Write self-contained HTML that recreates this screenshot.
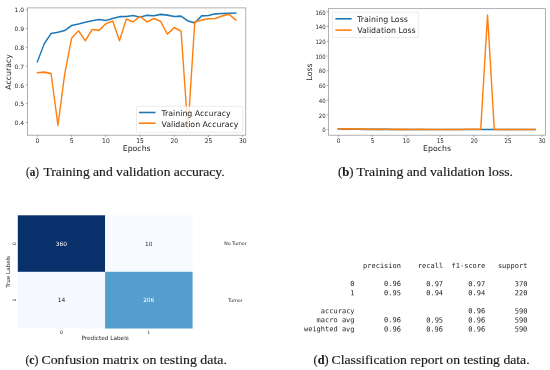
<!DOCTYPE html>
<html lang="en"><head><meta charset="utf-8"><title>Figure</title>
<style>html,body{margin:0;padding:0;background:#fff}body{width:550px;height:370px;overflow:hidden;position:relative}svg{position:absolute;left:0;top:0;display:block}.t{font-family:'DejaVu Sans','Liberation Sans',sans-serif;fill:#262626}.cap{font-family:'Liberation Serif','DejaVu Serif',serif;fill:#1a1a1a;stroke:#1a1a1a;stroke-width:0.15px}.m{font-family:'DejaVu Sans Mono','Liberation Mono',monospace;fill:#222;white-space:pre;text-rendering:geometricPrecision}</style></head><body>
<svg width="550" height="370" viewBox="0 0 550 370">
<rect width="550" height="370" fill="#fff"/>
<g>
<clipPath id="ca"><rect x="27.6" y="7.9" width="218.20" height="127.30"/></clipPath>
<g clip-path="url(#ca)" fill="none" stroke-width="1.6" stroke-linejoin="round" stroke-linecap="square">
<g transform="scale(0.88,1)">
<polyline stroke="#1f77b4" points="42.50,61.78 50.27,43.73 58.05,33.58 65.83,32.26 73.60,30.57 81.38,25.49 89.15,23.99 96.92,22.30 104.70,20.79 112.47,19.48 120.25,20.42 128.03,18.54 135.80,16.66 143.58,16.47 151.35,15.53 159.12,17.22 166.90,15.34 174.68,15.72 182.45,14.40 190.22,15.15 198.00,16.47 205.78,16.09 213.55,20.98 221.32,22.86 229.10,15.90 236.88,15.53 244.65,13.84 252.42,13.46 260.20,13.27 267.97,13.08"/>
<polyline stroke="#ff7f0e" points="42.50,72.68 50.27,72.12 58.05,73.62 65.83,125.32 73.60,73.62 81.38,38.28 89.15,30.76 96.92,40.72 104.70,29.44 112.47,30.38 120.25,23.80 128.03,20.98 135.80,40.72 143.58,19.10 151.35,21.92 159.12,16.28 166.90,21.92 174.68,18.54 182.45,21.36 190.22,34.14 198.00,27.56 205.78,31.32 213.55,129.64 221.32,21.92 229.10,20.04 236.88,18.72 244.65,18.54 252.42,15.90 260.20,14.21 267.97,20.23"/>
</g>
</g>
<rect x="27.6" y="7.9" width="218.20" height="127.30" fill="none" stroke="#909090" stroke-width="0.7"/>
<line x1="25.700000000000003" x2="27.6" y1="122.50" y2="122.50" stroke="#555" stroke-width="0.45"/>
<text class="t" x="24.150000000000002" y="125.20" font-size="6.0" text-anchor="end">0.4</text>
<line x1="25.700000000000003" x2="27.6" y1="103.70" y2="103.70" stroke="#555" stroke-width="0.45"/>
<text class="t" x="24.150000000000002" y="106.40" font-size="6.0" text-anchor="end">0.5</text>
<line x1="25.700000000000003" x2="27.6" y1="84.90" y2="84.90" stroke="#555" stroke-width="0.45"/>
<text class="t" x="24.150000000000002" y="87.60" font-size="6.0" text-anchor="end">0.6</text>
<line x1="25.700000000000003" x2="27.6" y1="66.10" y2="66.10" stroke="#555" stroke-width="0.45"/>
<text class="t" x="24.150000000000002" y="68.80" font-size="6.0" text-anchor="end">0.7</text>
<line x1="25.700000000000003" x2="27.6" y1="47.30" y2="47.30" stroke="#555" stroke-width="0.45"/>
<text class="t" x="24.150000000000002" y="50.00" font-size="6.0" text-anchor="end">0.8</text>
<line x1="25.700000000000003" x2="27.6" y1="28.50" y2="28.50" stroke="#555" stroke-width="0.45"/>
<text class="t" x="24.150000000000002" y="31.20" font-size="6.0" text-anchor="end">0.9</text>
<line x1="25.700000000000003" x2="27.6" y1="9.70" y2="9.70" stroke="#555" stroke-width="0.45"/>
<text class="t" x="24.150000000000002" y="12.40" font-size="6.0" text-anchor="end">1.0</text>
<line x1="37.40" x2="37.40" y1="135.2" y2="137.1" stroke="#555" stroke-width="0.45"/>
<text class="t" transform="translate(37.50,143) scale(0.94,1)" font-size="6.4" text-anchor="middle">0</text>
<line x1="71.61" x2="71.61" y1="135.2" y2="137.1" stroke="#555" stroke-width="0.45"/>
<text class="t" transform="translate(71.71,143) scale(0.94,1)" font-size="6.4" text-anchor="middle">5</text>
<line x1="105.82" x2="105.82" y1="135.2" y2="137.1" stroke="#555" stroke-width="0.45"/>
<text class="t" transform="translate(105.92,143) scale(0.94,1)" font-size="6.4" text-anchor="middle">10</text>
<line x1="140.03" x2="140.03" y1="135.2" y2="137.1" stroke="#555" stroke-width="0.45"/>
<text class="t" transform="translate(140.13,143) scale(0.94,1)" font-size="6.4" text-anchor="middle">15</text>
<line x1="174.24" x2="174.24" y1="135.2" y2="137.1" stroke="#555" stroke-width="0.45"/>
<text class="t" transform="translate(174.34,143) scale(0.94,1)" font-size="6.4" text-anchor="middle">20</text>
<line x1="208.45" x2="208.45" y1="135.2" y2="137.1" stroke="#555" stroke-width="0.45"/>
<text class="t" transform="translate(208.55,143) scale(0.94,1)" font-size="6.4" text-anchor="middle">25</text>
<line x1="242.66" x2="242.66" y1="135.2" y2="137.1" stroke="#555" stroke-width="0.45"/>
<text class="t" transform="translate(242.76,143) scale(0.94,1)" font-size="6.4" text-anchor="middle">30</text>
<text class="t" x="136.70" y="151.3" font-size="7.8" text-anchor="middle">Epochs</text>
<text class="t" transform="translate(11.1,71.95) rotate(-90)" font-size="7.8" text-anchor="middle">Accuracy</text>
<rect x="136.5" y="106.3" width="106.3" height="26.0" rx="1.2" fill="#fff" fill-opacity="0.8" stroke="#ccc" stroke-opacity="0.8" stroke-width="0.5"/>
<line x1="138.9" x2="155.6" y1="112.5" y2="112.5" stroke="#1f77b4" stroke-width="1.6"/>
<line x1="138.9" x2="155.6" y1="123.2" y2="123.2" stroke="#ff7f0e" stroke-width="1.6"/>
<text class="t" x="161.4" y="115.5" font-size="7.85">Training Accuracy</text>
<text class="t" x="161.4" y="126.5" font-size="7.85">Validation Accuracy</text>
</g>
<g>
<g fill="none" stroke-width="1.6" stroke-linejoin="round" stroke-linecap="square">
<g transform="scale(0.88,1)">
<polyline stroke="#1f77b4" points="384.43,128.94 392.14,129.16 399.85,129.27 407.56,129.31 415.26,129.34 422.97,129.38 430.68,129.39 438.39,129.42 446.10,129.44 453.80,129.45 461.51,129.45 469.22,129.47 476.93,129.49 484.64,129.49 492.34,129.50 500.05,129.49 507.76,129.51 515.47,129.51 523.17,129.53 530.88,129.53 538.59,129.51 546.30,129.51 554.01,129.45 561.71,129.45 569.42,129.51 577.13,129.53 584.84,129.53 592.55,129.54 600.25,129.54 607.96,129.54"/>
<polyline stroke="#ff7f0e" points="384.43,128.94 392.14,128.86 399.85,128.86 407.56,128.94 415.26,129.16 422.97,129.31 430.68,129.38 438.39,129.31 446.10,129.38 453.80,129.38 461.51,129.42 469.22,129.45 476.93,129.23 484.64,129.45 492.34,129.45 500.05,129.49 507.76,129.45 515.47,129.49 523.17,129.45 530.88,129.23 538.59,129.31 546.30,129.08 554.01,14.93 561.71,129.42 569.42,129.45 577.13,129.45 584.84,129.45 592.55,129.49 600.25,129.49 607.96,129.45"/>
</g>
</g>
<rect x="328.6" y="8.7" width="216.80" height="126.50" fill="none" stroke="#909090" stroke-width="0.7"/>
<line x1="326.70000000000005" x2="328.6" y1="129.60" y2="129.60" stroke="#555" stroke-width="0.45"/>
<text class="t" transform="translate(325.70,132) scale(0.9,1)" font-size="6.0" text-anchor="end">0</text>
<line x1="326.70000000000005" x2="328.6" y1="114.88" y2="114.88" stroke="#555" stroke-width="0.45"/>
<text class="t" transform="translate(325.70,118) scale(0.9,1)" font-size="6.0" text-anchor="end">20</text>
<line x1="326.70000000000005" x2="328.6" y1="100.16" y2="100.16" stroke="#555" stroke-width="0.45"/>
<text class="t" transform="translate(325.70,103) scale(0.9,1)" font-size="6.0" text-anchor="end">40</text>
<line x1="326.70000000000005" x2="328.6" y1="85.44" y2="85.44" stroke="#555" stroke-width="0.45"/>
<text class="t" transform="translate(325.70,88) scale(0.9,1)" font-size="6.0" text-anchor="end">60</text>
<line x1="326.70000000000005" x2="328.6" y1="70.72" y2="70.72" stroke="#555" stroke-width="0.45"/>
<text class="t" transform="translate(325.70,73) scale(0.9,1)" font-size="6.0" text-anchor="end">80</text>
<line x1="326.70000000000005" x2="328.6" y1="56.00" y2="56.00" stroke="#555" stroke-width="0.45"/>
<text class="t" transform="translate(325.70,59) scale(0.9,1)" font-size="6.0" text-anchor="end">100</text>
<line x1="326.70000000000005" x2="328.6" y1="41.28" y2="41.28" stroke="#555" stroke-width="0.45"/>
<text class="t" transform="translate(325.70,44) scale(0.9,1)" font-size="6.0" text-anchor="end">120</text>
<line x1="326.70000000000005" x2="328.6" y1="26.56" y2="26.56" stroke="#555" stroke-width="0.45"/>
<text class="t" transform="translate(325.70,29) scale(0.9,1)" font-size="6.0" text-anchor="end">140</text>
<line x1="326.70000000000005" x2="328.6" y1="11.84" y2="11.84" stroke="#555" stroke-width="0.45"/>
<text class="t" transform="translate(325.70,15) scale(0.9,1)" font-size="6.0" text-anchor="end">160</text>
<line x1="338.30" x2="338.30" y1="135.2" y2="137.1" stroke="#555" stroke-width="0.45"/>
<text class="t" transform="translate(338.50,143) scale(0.86,1)" font-size="6.4" text-anchor="middle">0</text>
<line x1="372.22" x2="372.22" y1="135.2" y2="137.1" stroke="#555" stroke-width="0.45"/>
<text class="t" transform="translate(372.42,143) scale(0.86,1)" font-size="6.4" text-anchor="middle">5</text>
<line x1="406.13" x2="406.13" y1="135.2" y2="137.1" stroke="#555" stroke-width="0.45"/>
<text class="t" transform="translate(406.33,143) scale(0.86,1)" font-size="6.4" text-anchor="middle">10</text>
<line x1="440.05" x2="440.05" y1="135.2" y2="137.1" stroke="#555" stroke-width="0.45"/>
<text class="t" transform="translate(440.25,143) scale(0.86,1)" font-size="6.4" text-anchor="middle">15</text>
<line x1="473.96" x2="473.96" y1="135.2" y2="137.1" stroke="#555" stroke-width="0.45"/>
<text class="t" transform="translate(474.16,143) scale(0.86,1)" font-size="6.4" text-anchor="middle">20</text>
<line x1="507.88" x2="507.88" y1="135.2" y2="137.1" stroke="#555" stroke-width="0.45"/>
<text class="t" transform="translate(508.07,143) scale(0.86,1)" font-size="6.4" text-anchor="middle">25</text>
<line x1="541.79" x2="541.79" y1="135.2" y2="137.1" stroke="#555" stroke-width="0.45"/>
<text class="t" transform="translate(541.99,143) scale(0.86,1)" font-size="6.4" text-anchor="middle">30</text>
<text class="t" x="437.00" y="151.3" font-size="7.8" text-anchor="middle">Epochs</text>
<text class="t" transform="translate(312.2,71.95) rotate(-90)" font-size="7.8" text-anchor="middle">Loss</text>
<rect x="332.4" y="12.2" width="86.0" height="25.4" rx="1.2" fill="#fff" fill-opacity="0.8" stroke="#ccc" stroke-opacity="0.8" stroke-width="0.5"/>
<line x1="335.4" x2="351.6" y1="18.8" y2="18.8" stroke="#1f77b4" stroke-width="1.6"/>
<line x1="335.4" x2="351.6" y1="30.1" y2="30.1" stroke="#ff7f0e" stroke-width="1.6"/>
<text class="t" x="357.2" y="21.5" font-size="7.85">Training Loss</text>
<text class="t" x="357.2" y="32.8" font-size="7.85">Validation Loss</text>
</g>
<g>
<rect x="17.80" y="215.30" width="87.50" height="56.70" fill="#08306b"/>
<rect x="105.10" y="215.30" width="87.50" height="56.70" fill="#f7fbff"/>
<rect x="17.80" y="271.80" width="87.50" height="56.70" fill="#f5f9fe"/>
<rect x="105.10" y="271.80" width="87.50" height="56.70" fill="#539ecd"/>
<text x="61.45" y="245.85" font-family="'DejaVu Sans','Liberation Sans',sans-serif" font-size="5.9" fill="#fff" text-anchor="middle">360</text>
<text x="148.75" y="245.85" font-family="'DejaVu Sans','Liberation Sans',sans-serif" font-size="5.9" fill="#262626" text-anchor="middle">10</text>
<text x="61.45" y="302.35" font-family="'DejaVu Sans','Liberation Sans',sans-serif" font-size="5.9" fill="#262626" text-anchor="middle">14</text>
<text x="148.75" y="302.35" font-family="'DejaVu Sans','Liberation Sans',sans-serif" font-size="5.9" fill="#fff" text-anchor="middle">206</text>
<text class="t" transform="translate(15.6,243.55) rotate(-90)" font-size="4.6" text-anchor="middle">0</text>
<text class="t" transform="translate(15.6,300.05) rotate(-90)" font-size="4.6" text-anchor="middle">1</text>
<text class="t" x="61.45" y="334.20" font-size="4.6" text-anchor="middle">0</text>
<text class="t" x="148.75" y="334.20" font-size="4.6" text-anchor="middle">1</text>
<text class="t" x="105.10" y="340.4" font-size="5.75" text-anchor="middle">Predicted Labels</text>
<text class="t" transform="translate(9.5,271.80) rotate(-90)" font-size="5.6" text-anchor="middle">True Labels</text>
<text class="t" x="235.4" y="245.1" font-size="4.7" text-anchor="middle" fill="#000">No Tumor</text>
<text class="t" x="235.4" y="301.7" font-size="4.7" text-anchor="middle" fill="#000">Tumor</text>
</g>
<g transform="rotate(0.05 415 300)">
<text class="m" x="304.0" y="268.00" font-size="7.0" xml:space="preserve">              precision    recall  f1-score   support</text>
<text class="m" x="304.0" y="286.13" font-size="7.0" xml:space="preserve">           0       0.96      0.97      0.97       370</text>
<text class="m" x="304.0" y="295.19" font-size="7.0" xml:space="preserve">           1       0.95      0.94      0.94       220</text>
<text class="m" x="304.0" y="313.32" font-size="7.0" xml:space="preserve">    accuracy                           0.96       590</text>
<text class="m" x="304.0" y="322.39" font-size="7.0" xml:space="preserve">   macro avg       0.96      0.95      0.96       590</text>
<text class="m" x="304.0" y="331.45" font-size="7.0" xml:space="preserve">weighted avg       0.96      0.96      0.96       590</text>
</g>
<text class="cap" x="26.0" y="176.4" font-size="12.1" textLength="13.0" lengthAdjust="spacingAndGlyphs">(<tspan font-weight="bold">a</tspan>)</text>
<text class="cap" x="43.4" y="176.4" font-size="12.1" textLength="181.2" lengthAdjust="spacingAndGlyphs">Training and validation accuracy.</text>
<text class="cap" x="338.0" y="176.4" font-size="12.1" textLength="15.6" lengthAdjust="spacingAndGlyphs">(<tspan font-weight="bold">b</tspan>)</text>
<text class="cap" x="356.6" y="176.4" font-size="12.1" textLength="156.4" lengthAdjust="spacingAndGlyphs">Training and validation loss.</text>
<text class="cap" x="25.4" y="364.2" font-size="12.1" textLength="13.0" lengthAdjust="spacingAndGlyphs">(<tspan font-weight="bold">c</tspan>)</text>
<text class="cap" x="41.4" y="364.2" font-size="12.1" textLength="185.6" lengthAdjust="spacingAndGlyphs">Confusion matrix on testing data.</text>
<text class="cap" x="313.6" y="364.2" font-size="12.1" textLength="15.0" lengthAdjust="spacingAndGlyphs">(<tspan font-weight="bold">d</tspan>)</text>
<text class="cap" x="331.6" y="364.2" font-size="12.1" textLength="198.0" lengthAdjust="spacingAndGlyphs">Classification report on testing data.</text>
</svg></body></html>
